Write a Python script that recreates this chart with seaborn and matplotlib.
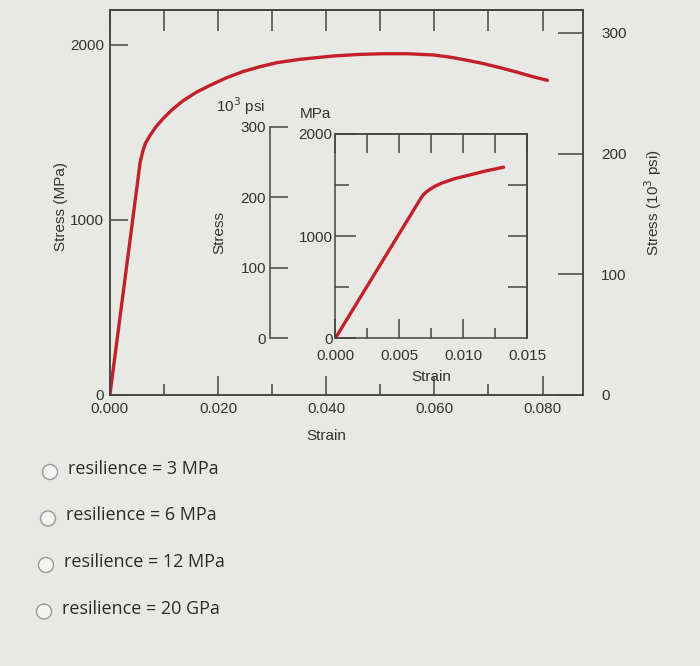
import matplotlib
matplotlib.use("Agg")
import matplotlib.pyplot as plt
import seaborn as sns
import pandas as pd
from matplotlib.patches import Circle
from matplotlib.ticker import FixedLocator, MultipleLocator

OUTPUT_PATH = "out.png"
MPA_PER_KSI = 6.895

# full stress-strain curve
main_strain = [0.000, 0.0056, 0.0061, 0.0066, 0.0074, 0.0085, 0.0098, 0.0115,
               0.0135, 0.0160, 0.0185, 0.0215, 0.0246, 0.0280, 0.0309, 0.0351,
               0.0413, 0.0460, 0.0505, 0.0550, 0.0598, 0.0630, 0.0660, 0.0690,
               0.0722, 0.0750, 0.0783, 0.0809]
main_stress = [0, 1331, 1395, 1440, 1482, 1532, 1578, 1630,
               1681, 1730, 1769, 1812, 1848, 1878, 1899, 1918,
               1937, 1946, 1950, 1950, 1943, 1930, 1913, 1894,
               1870, 1847, 1818, 1798]

# inset (elastic region zoom)
inset_strain = [0.000, 0.00664, 0.00689, 0.00715, 0.00738, 0.00785, 0.00836,
                0.00934, 0.01057, 0.0118, 0.01316]
inset_stress = [0, 1360, 1405, 1435, 1456, 1492, 1520, 1562, 1600, 1638, 1674]

main_xticks = [0.000, 0.020, 0.040, 0.060, 0.080]
main_xlabels = ["0.000", "0.020", "0.040", "0.060", "0.080"]
main_yticks = [0, 1000, 2000]
psi_ticks = [0, 100, 200, 300]
inset_xticks = [0.000, 0.005, 0.010, 0.015]
inset_xlabels = ["0.000", "0.005", "0.010", "0.015"]
inset_yticks = [0, 1000, 2000]

options = ["resilience = 3 MPa", "resilience = 6 MPa",
           "resilience = 12 MPa", "resilience = 20 GPa"]

BG = "#e8e8e5"
LINE = "#444444"
TXT = "#333333"
RED = "#c4202b"


def style_axes(ax):
    ax.set_facecolor("none")
    for s in ax.spines.values():
        s.set_color(LINE)
        s.set_linewidth(1.1)


def top_ticks(ax, step, length):
    # plain inward ticks along the top edge, all the same length
    sec = ax.secondary_xaxis("top")
    sec.xaxis.set_major_locator(MultipleLocator(step))
    sec.tick_params(direction="in", length=length, width=1.1, color=LINE, labeltop=False)
    sec.spines["top"].set_color(LINE)
    sec.spines["top"].set_linewidth(1.1)
    return sec


def main():
    sns.set_theme(style="ticks")
    plt.rcParams["font.family"] = ["Liberation Sans", "DejaVu Sans"]
    plt.rcParams["text.color"] = TXT
    plt.rcParams["axes.labelcolor"] = TXT
    plt.rcParams["xtick.color"] = LINE
    plt.rcParams["ytick.color"] = LINE
    plt.rcParams["xtick.labelcolor"] = TXT
    plt.rcParams["ytick.labelcolor"] = TXT

    fig = plt.figure(figsize=(7.0, 6.66), dpi=100)
    fig.patch.set_facecolor(BG)

    # ---- main axes ----
    ax = fig.add_axes([0.157, 0.407, 0.676, 0.578])
    style_axes(ax)
    df = pd.DataFrame({"strain": main_strain, "stress": main_stress})
    sns.lineplot(data=df, x="strain", y="stress", ax=ax, color=RED, lw=2.4, sort=False)
    ax.set_xlim(0, 0.0875)
    ax.set_ylim(0, 2200)
    ax.xaxis.set_major_locator(FixedLocator(main_xticks))
    ax.set_xticklabels(main_xlabels)
    ax.xaxis.set_minor_locator(MultipleLocator(0.010))
    ax.set_yticks(main_yticks)
    ax.tick_params(axis="x", which="major", direction="in", length=14, width=1.1,
                   labelsize=11, pad=5, top=False)
    ax.tick_params(axis="x", which="minor", direction="in", length=8, width=1.1, top=False)
    ax.tick_params(axis="y", direction="in", length=13, width=1.1, labelsize=11, pad=4)
    ax.set_xlabel("Strain", fontsize=11)
    ax.xaxis.set_label_coords(0.457, -0.088)
    ax.set_ylabel("Stress (MPa)", fontsize=11)
    ax.yaxis.set_label_coords(-0.088, 0.49)
    top_ticks(ax, 0.010, 15)

    # right axis in 10^3 psi
    ax2 = ax.twinx()
    style_axes(ax2)
    ax2.set_ylim(0, 2200 / MPA_PER_KSI)
    ax2.set_yticks(psi_ticks)
    ax2.tick_params(axis="y", direction="in", length=18, width=1.1, labelsize=11, pad=13)
    ax2.set_ylabel("Stress (10$^3$ psi)", fontsize=11, labelpad=11)

    # ---- inset ----
    ins = fig.add_axes([0.479, 0.492, 0.274, 0.307])
    style_axes(ins)
    dfi = pd.DataFrame({"strain": inset_strain, "stress": inset_stress})
    sns.lineplot(data=dfi, x="strain", y="stress", ax=ins, color=RED, lw=2.4, sort=False)
    ins.set_xlim(0, 0.015)
    ins.set_ylim(0, 2000)
    ins.xaxis.set_major_locator(FixedLocator(inset_xticks))
    ins.set_xticklabels(inset_xlabels)
    ins.xaxis.set_minor_locator(MultipleLocator(0.0025))
    ins.yaxis.set_major_locator(FixedLocator(inset_yticks))
    ins.yaxis.set_minor_locator(MultipleLocator(500))
    ins.tick_params(axis="x", which="major", direction="in", length=14, width=1.1,
                    labelsize=11, pad=8, top=False)
    ins.tick_params(axis="x", which="minor", direction="in", length=7, width=1.1, top=False)
    ins.tick_params(axis="y", which="major", direction="in", length=15, width=1.1,
                    labelsize=11, pad=2, right=False)
    ins.tick_params(axis="y", which="minor", direction="in", length=10, width=1.1, right=False)
    ins.set_xlabel("Strain", fontsize=11, labelpad=5)
    ins.set_ylabel("")
    ins.text(-0.105, 1.065, "MPa", transform=ins.transAxes, ha="center", va="bottom",
             fontsize=11, color=TXT)
    top_ticks(ins, 0.0025, 14)
    right = ins.secondary_yaxis("right")
    right.yaxis.set_major_locator(FixedLocator([500, 1000, 1500]))
    right.tick_params(direction="in", length=14, width=1.1, color=LINE, labelright=False)
    right.spines["right"].set_color(LINE)
    right.spines["right"].set_linewidth(1.1)

    # separate psi scale for the inset
    psi = fig.add_axes([0.386, 0.492, 0.01, 0.307 * 300 * MPA_PER_KSI / 2000])
    psi.set_facecolor("none")
    for k, s in psi.spines.items():
        s.set_visible(k == "left")
    psi.spines["left"].set_color(LINE)
    psi.spines["left"].set_linewidth(1.1)
    psi.set_xticks([])
    psi.set_ylim(0, 300)
    psi.set_yticks(psi_ticks)
    psi.tick_params(axis="y", direction="in", length=13, width=1.1, labelsize=11, pad=3)
    psi.text(-4.3, 1.045, "10$^3$ psi", transform=psi.transAxes, ha="center", va="bottom",
             fontsize=11, color=TXT)
    psi.set_ylabel("Stress", fontsize=11, labelpad=10)

    # ---- answer choices ----
    for i, opt in enumerate(options):
        y_px = 469 + 46.5 * i
        x_px = 68 - 2 * i
        fig.text(x_px / 700, 1 - y_px / 666, opt, fontsize=13, ha="left", va="center",
                 color="#2b2b2b", family=["Open Sans", "DejaVu Sans"])
        fig.add_artist(Circle(((x_px - 18) / 100, (666 - y_px - 3) / 100), 0.075,
                              transform=fig.dpi_scale_trans, facecolor="#f4f4f2",
                              edgecolor="#9a9a9a", lw=1.0))

    fig.savefig(OUTPUT_PATH, dpi=100, facecolor=BG)
    plt.close(fig)


if __name__ == "__main__":
    main()
